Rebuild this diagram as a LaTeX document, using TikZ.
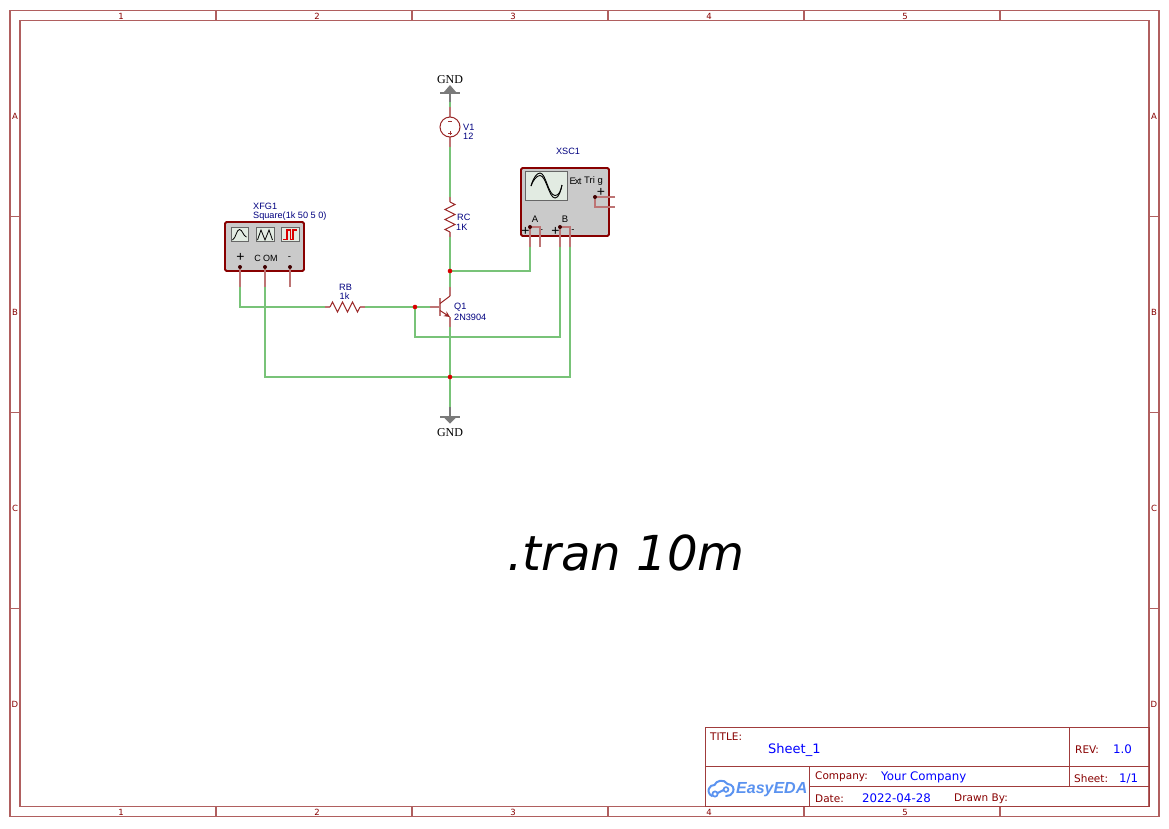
\documentclass[tikz,border=0pt]{standalone}
\usepackage{fontspec}
\setmainfont{DejaVu Sans}
\newfontfamily\lib{Liberation Sans}
\newfontfamily\libs{Liberation Serif}
\newfontfamily\libt[LetterSpace=-9]{Liberation Sans}
\usetikzlibrary{arrows.meta}
\definecolor{frame}{HTML}{B05F5F}
\definecolor{tb}{HTML}{A03C3C}
\definecolor{txtred}{HTML}{880000}
\definecolor{wire}{HTML}{78C378}
\definecolor{pinc}{HTML}{BD7474}
\definecolor{gndc}{HTML}{7A7A7A}
\definecolor{navy2}{HTML}{000080}
\definecolor{boxfill}{HTML}{CACACA}
\definecolor{scr}{HTML}{E2EBE2}
\definecolor{logo}{HTML}{5B93F0}
\tikzset{
 x=1pt,y=-1pt,
 frameln/.style={draw=frame,line width=1.1pt},
 tbln/.style={draw=tb,line width=1pt},
 wireln/.style={draw=wire,line width=1.25pt},
 pinln/.style={draw=pinc,line width=1.3pt},
 gndln/.style={draw=gndc,line width=1.3pt},
 partln/.style={draw=txtred!85!white,line width=1pt},
 gridlbl/.style={text=txtred,font=\fontsize{8.5}{9}\selectfont,inner sep=0pt},
 tred/.style={text=txtred,font=\fontsize{10.5}{12}\selectfont,inner sep=0pt,anchor=west},
 tblue/.style={text=blue,font=\fontsize{11.8}{13}\selectfont,inner sep=0pt,anchor=west},
 cmp/.style={text=navy2,font=\lib\fontsize{9.15}{10}\selectfont,inner sep=0pt,anchor=west},
 gndlbl/.style={text=black,font=\libs\fontsize{12}{13}\selectfont,inner sep=0pt},
 inst/.style={text=black,font=\lib\fontsize{9.5}{10}\selectfont,inner sep=0pt},
 dev/.style={draw=txtred,line width=1.8pt,fill=boxfill,rounded corners=1.5pt},
 btn/.style={draw=black!60,line width=.8pt,fill=scr},
 jdot/.style={circle,fill=red!85!black,draw=none,minimum size=4.6pt,inner sep=0pt},
 pdot/.style={circle,fill=black!75!red,draw=none,minimum size=4pt,inner sep=0pt},
}
\begin{document}
\begin{tikzpicture}
\useasboundingbox (0,0) rectangle (1169,828);
\fill[white] (0,0) rectangle (1169,828);
% sheet frame
\draw[frameln] (10,10.5) rectangle (1159,816.5);
\draw[frameln] (20,20.5) rectangle (1149,806.5);
\foreach \xx in {216,412,608,804,1000}{
  \draw[frameln] (\xx,10.5) -- (\xx,20.5);
  \draw[frameln] (\xx,806.5) -- (\xx,816.5);}
\foreach \yy in {216.5,412.5,608.5}{
  \draw[frameln] (10,\yy) -- (20,\yy);
  \draw[frameln] (1149,\yy) -- (1159,\yy);}
\foreach \xx/\t in {121/1,317/2,513/3,709/4,905/5}{
  \node[gridlbl] (top\t) at (\xx,16) {\t};
  \node[gridlbl] (bot\t) at (\xx,812) {\t};}
\foreach \yy/\t in {116/A,312/B,508/C,704/D}{
  \node[gridlbl] (lft\t) at (15,\yy) {\t};
  \node[gridlbl] (rgt\t) at (1154,\yy) {\t};}
% title block
\draw[tbln] (705,727) rectangle (1149,806.5);
\draw[tbln] (705,766) -- (1149,766);
\draw[tbln] (809.5,786) -- (1149,786);
\draw[tbln] (809.5,766) -- (809.5,806.5);
\draw[tbln] (1069.5,727) -- (1069.5,786);
\node[tred] (ttitle) at (710,736.5) {TITLE:};
\node[tblue,font=\fontsize{13}{14}\selectfont] (tsheet) at (768,750) {Sheet\_1};
\node[tred] (trev) at (1075,749.5) {REV:};
\node[tblue] (trevv) at (1113,749.5) {1.0};
\node[tred] (tcomp) at (815,777) {Company:};
\node[tblue] (tcompv) at (881,777.5) {Your Company};
\node[tred] (tsh) at (1074,778.5) {Sheet:};
\node[tblue] (tshv) at (1119,778.5) {1/1};
\node[tred] (tdate) at (815,798.5) {Date:};
\node[tblue] (tdatev) at (862,798.5) {2022-04-28};
\node[tred] (tdrawn) at (954,798.5) {Drawn By:};
% logo
\draw[logo,line width=2pt,line cap=round,line join=round]
  (712,796) .. controls (708.5,794.5) and (708,790.5) .. (709,788.5)
  .. controls (710,786) and (712,785) .. (714.5,785)
  .. controls (716,780.5) and (724,778.5) .. (727.5,784)
  .. controls (733,784) and (734.5,789) .. (733,792)
  .. controls (732,795) and (729,796) .. (726,796);
\draw[logo,line width=2pt,line cap=round] (717.5,793) -- (723.5,790);
\draw[logo,line width=1.7pt] (715,794) circle (2.6);
\draw[logo,line width=1.7pt] (726,789.5) circle (2.4);
\node[text=logo,inner sep=0pt,anchor=west,font=\lib\fontsize{16}{16}\selectfont\bfseries\itshape] (logotxt) at (736,790) {EasyEDA};
% big label
\node[inner sep=0pt,text=black,font=\fontsize{48.2}{50}\selectfont\itshape,anchor=base west] (tran) at (507,570) {.tran 10m};
% coordinates
\coordinate (gt) at (450,92);
\coordinate (gtb) at (450,102);
\coordinate (v1t) at (450,107);
\coordinate (v1c) at (450,127);
\coordinate (v1b) at (450,147);
\coordinate (rct) at (450,197);
\coordinate (rcb) at (450,237);
\coordinate (jc) at (450,271);
\coordinate (qc) at (450,287);
\coordinate (qe) at (450,327);
\coordinate (jg) at (450,377);
\coordinate (gbt) at (450,407);
\coordinate (gb) at (450,417);
\coordinate (jb) at (415,307);
\coordinate (qb) at (430,307);
\coordinate (rbl) at (325,307);
\coordinate (rbr) at (365,307);
\coordinate (fgp) at (240,267);
\coordinate (fgc) at (265,267);
\coordinate (fgm) at (290,267);
\coordinate (fgpe) at (240,287);
\coordinate (fgce) at (265,287);
\coordinate (fgme) at (290,287);
\coordinate (ap) at (530,227);
\coordinate (ape) at (530,247);
\coordinate (am) at (540,227);
\coordinate (ame) at (540,247);
\coordinate (bp) at (560,227);
\coordinate (bpe) at (560,247);
\coordinate (bm) at (570,227);
\coordinate (bme) at (570,247);
\coordinate (tp) at (595,197);
\coordinate (tm) at (595,207);
\coordinate (tpe) at (615,197);
\coordinate (tme) at (615,207);
% wires
\draw[wireln] (gtb) -- (v1t);
\draw[wireln] (v1b) -- (rct);
\draw[wireln] (rcb) -- (jc) -- (qc);
\draw[wireln] (jc) -| (ape);
\draw[wireln] (qe) -- (jg) -- (gbt);
\draw[wireln] (fgpe) |- (rbl);
\draw[wireln] (rbr) -- (jb) -- (qb);
\draw[wireln] (jb) |- (450,337) -| (bpe);
\draw[wireln] (fgce) |- (jg) -| (bme);
% V1
\draw[pinln] (v1t) -- (450,117);
\draw[pinln] (450,137) -- (v1b);
\node[circle,draw=txtred!85!white,line width=1pt,minimum size=20pt,inner sep=0pt] (v1) at (v1c) {};
\draw[txtred!80!white,line width=.9pt] (448,121) -- (452,121);
\draw[txtred!80!white,line width=.9pt] (448,133) -- (452,133) (450,131) -- (450,135);
\node[cmp] (v1n) at (463,127) {V1};
\node[cmp] (v1v) at (463,136) {12};
% RC
\draw[pinln] (rct) -- (450,202);
\draw[pinln] (450,232) -- (rcb);
\draw[partln,line join=miter] (450,202) -- (455,204.5) -- (445,209.5) -- (455,214.5) -- (445,219.5) -- (455,224.5) -- (445,229.5) -- (450,232);
\node[cmp] (rcn) at (457,217) {RC};
\node[cmp] (rcv) at (456,227) {1K};
% RB
\draw[pinln] (rbl) -- (330,307);
\draw[pinln] (360,307) -- (rbr);
\draw[partln] (330,307) -- (332.5,302) -- (337.5,312) -- (342.5,302) -- (347.5,312) -- (352.5,302) -- (357.5,312) -- (360,307);
\node[cmp,anchor=center] (rbn) at (345.5,287) {RB};
\node[cmp,anchor=center] (rbv) at (344.5,296) {1k};
% Q1
\draw[pinln] (qb) -- (440,307);
\draw[pinln] (440,298) -- (440,316);
\draw[pinln] (qc) -- (450,296);
\draw[pinln] (450,317) -- (qe);
\draw[partln] (440,303.5) -- (450,296);
\draw[partln,-{Stealth[length=6pt,width=5.5pt]}] (440,310.5) -- (450,317);
\node[cmp] (q1n) at (454,307) {Q1};
\node[cmp] (q1v) at (454,317) {2N3904};
% grounds
\draw[gndln] (gt) -- (gtb);
\fill[gndc] (440,91.5) rectangle (460,93.5);
\fill[gndc] (444,92) -- (450,85) -- (456,92) -- cycle;
\node[gndlbl] (gnd1) at (450,79.5) {GND};
\draw[gndln] (gbt) -- (gb);
\fill[gndc] (440,416) rectangle (460,418);
\fill[gndc] (444.5,418) -- (450,423.5) -- (455.5,418) -- cycle;
\node[gndlbl] (gnd2) at (450,432.5) {GND};
% XFG1
\node[dev,minimum width=79pt,minimum height=49pt,inner sep=0pt] (xfg) at (264.5,246.5) {};
\draw[btn] (231,227.5) rectangle (248,241.5);
\draw[btn] (256,227.5) rectangle (274,241.5);
\draw[btn] (281,227.5) rectangle (299,241.5);
\draw[black,line width=.8pt] (232.5,240) .. controls (236,238) and (236.5,229.5) .. (239.5,229.5) .. controls (242.5,229.5) and (243,236) .. (246.5,237);
\draw[black,line width=.8pt] (257.5,240) -- (261,230) -- (265,240) -- (269,230) -- (272.5,240);
\draw[red!85!black,line width=1.1pt] (283,239.5) -- (287,239.5) -- (287,230) -- (290.5,230) -- (290.5,239.5) -- (293,239.5) -- (293,230) -- (297,230);
\node[inst,font=\lib\fontsize{14}{14}\selectfont] (fgplus) at (240.5,257) {+};
\node[inst,font=\lib\fontsize{9}{10}\selectfont] (fgcom) at (266,258) {C OM};
\node[inst] (fgminus) at (289.5,258) {-};
\draw[pinln] (fgp) -- (fgpe);
\draw[pinln] (fgc) -- (fgce);
\draw[pinln] (fgm) -- (fgme);
\node[pdot] (fgd1) at (fgp) {};
\node[pdot] (fgd2) at (fgc) {};
\node[pdot] (fgd3) at (fgm) {};
\node[cmp] (fgn) at (253,206) {XFG1};
\node[cmp] (fgv) at (253,216) {Square(1k 50 5 0)};
% XSC1
\node[dev,minimum width=88pt,minimum height=68pt,inner sep=0pt] (xsc) at (565,202) {};
\draw[btn] (525.5,171.5) rectangle (567.5,200.5);
\draw[black,line width=.9pt] (531,186) .. controls (533,178) and (537,173) .. (540,173) .. controls (546,173) and (548,195) .. (555,195.5) .. controls (559,196) and (561,190) .. (562,185);
\draw[black,line width=.9pt] (531,186) .. controls (533,180) and (537,175.5) .. (540,175.5) .. controls (546,175.5) and (549,198) .. (555,198) .. controls (559,198) and (561,190) .. (562,185);
\node[inst,font=\libt\fontsize{9.5}{10}\selectfont] (ext) at (575.5,181) {Ext};
\node[inst] (trig) at (593.5,181) {Tri g};
\node[inst] (la) at (535,219.5) {A};
\node[inst] (lb) at (565,219.5) {B};
\node[inst,font=\lib\fontsize{14}{14}\selectfont] (ap1) at (525.5,231) {+};
\node[inst] (am1) at (541.5,231) {-};
\node[inst,font=\lib\fontsize{14}{14}\selectfont] (bp1) at (555.5,231) {+};
\node[inst] (bm1) at (573,231) {-};
\node[inst,font=\lib\fontsize{14}{14}\selectfont] (tp1) at (601,192) {+};
\node[inst] (tm1) at (599,209) {-};
\draw[pinln] (ape) -- (ap) -- (am) -- (ame);
\draw[pinln] (bpe) -- (bp) -- (bm) -- (bme);
\draw[pinln] (tpe) -- (tp) -- (tm) -- (tme);
\node[pdot] (ad) at (ap) {};
\node[pdot] (bd) at (bp) {};
\node[pdot] (td) at (tp) {};
\node[cmp,anchor=center] (xscn) at (568,151) {XSC1};
% junctions
\node[jdot] (d1) at (jc) {};
\node[jdot] (d2) at (jb) {};
\node[jdot] (d3) at (jg) {};
\end{tikzpicture}
\end{document}
